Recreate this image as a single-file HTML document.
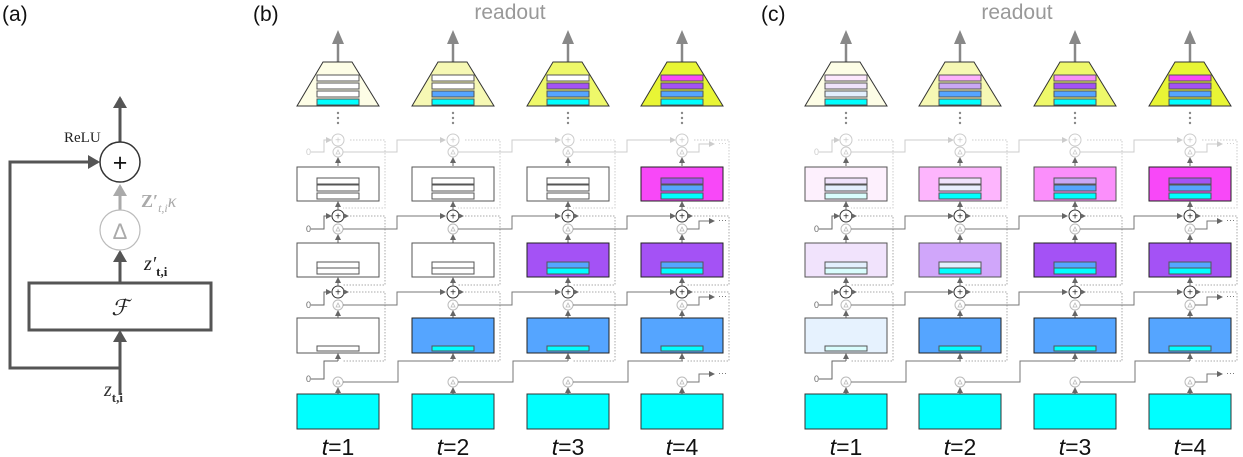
<!DOCTYPE html>
<html><head><meta charset="utf-8"><style>
html,body{margin:0;padding:0;background:#fff}
svg{display:block}
text{font-family:"Liberation Sans",sans-serif}
text.s, text.s tspan{font-family:"Liberation Serif",serif}
</style></head><body>
<svg width="1243" height="457" viewBox="0 0 1243 457" xmlns="http://www.w3.org/2000/svg">
<defs>
<marker id="ah" markerWidth="6" markerHeight="6" refX="5" refY="3" orient="auto" markerUnits="userSpaceOnUse"><path d="M0,0 L6,3 L0,6 z" fill="#666"/></marker>
<marker id="af" markerWidth="6" markerHeight="6" refX="5" refY="3" orient="auto" markerUnits="userSpaceOnUse"><path d="M0,0 L6,3 L0,6 z" fill="#ccc"/></marker>
<marker id="big" markerWidth="12" markerHeight="14" refX="10" refY="7" orient="auto" markerUnits="userSpaceOnUse"><path d="M0,0 L12,7 L0,14 z" fill="#555"/></marker>
<marker id="bigg" markerWidth="12" markerHeight="14" refX="10" refY="7" orient="auto" markerUnits="userSpaceOnUse"><path d="M0,0 L12,7 L0,14 z" fill="#aaa"/></marker>
<g id="conn">
  <circle cx="0" cy="113" r="1.2" fill="#888"/><circle cx="0" cy="118" r="1.2" fill="#888"/><circle cx="0" cy="123" r="1.2" fill="#888"/>
  <path d="M12,140 H47 V208 H5" fill="none" stroke="#ccc" stroke-width="1" stroke-dasharray="1.5,1.5"/>
  <path d="M12,216 H47 V285 H5" fill="none" stroke="#aaa" stroke-width="1" stroke-dasharray="1.5,1.5"/>
  <path d="M12,292 H47 V361 H5" fill="none" stroke="#aaa" stroke-width="1" stroke-dasharray="1.5,1.5"/>
  <circle cx="0" cy="140" r="6" fill="#fff" stroke="#ccc"/><text x="0" y="143.5" font-size="10" text-anchor="middle" fill="#ccc">+</text>
  <circle cx="0" cy="152" r="5" fill="#fff" stroke="#ccc"/>
  <path d="M0,166 V158" stroke="#666" marker-end="url(#ah)"/>
  <path d="M-2,154 L0,150 L2,154z" fill="none" stroke="#ccc" stroke-width="0.8"/>
  <circle cx="0" cy="216" r="6" fill="#fff" stroke="#333"/><text x="0" y="219.5" font-size="10" text-anchor="middle" fill="#222">+</text>
  <path d="M0,210 V202" stroke="#666" marker-end="url(#ah)"/>
  <path d="M10,216 h-3" stroke="#666" marker-end="url(#ah)" transform="rotate(180 8.5 216)"/>
  <circle cx="0" cy="229" r="5" fill="#fff" stroke="#bbb"/><path d="M-2,231 L0,227 L2,231z" fill="none" stroke="#bbb" stroke-width="0.8"/>
  <path d="M0,243 V235" stroke="#666" marker-end="url(#ah)"/>
  <circle cx="0" cy="292" r="6" fill="#fff" stroke="#333"/><text x="0" y="295.5" font-size="10" text-anchor="middle" fill="#222">+</text>
  <path d="M0,286 V278" stroke="#666" marker-end="url(#ah)"/>
  <path d="M10,292 h-3" stroke="#666" marker-end="url(#ah)" transform="rotate(180 8.5 292)"/>
  <circle cx="0" cy="305" r="5" fill="#fff" stroke="#bbb"/><path d="M-2,307 L0,303 L2,307z" fill="none" stroke="#bbb" stroke-width="0.8"/>
  <path d="M0,318 V311" stroke="#666" marker-end="url(#ah)"/>
  <path d="M0,361 V354" stroke="#666" marker-end="url(#ah)"/>
  <circle cx="0" cy="382" r="5" fill="#fff" stroke="#bbb"/><path d="M-2,384 L0,380 L2,384z" fill="none" stroke="#bbb" stroke-width="0.8"/>
  <path d="M0,394 V388" stroke="#666" marker-end="url(#ah)"/>
</g>
<g id="zero">
  <path d="M-27,152 H-14 V140 H-7" fill="none" stroke="#ccc" marker-end="url(#af)"/>
  <path d="M-27,229 H-14 V216 H-7" fill="none" stroke="#666" marker-end="url(#ah)"/>
  <path d="M-27,305 H-14 V292 H-7" fill="none" stroke="#666" marker-end="url(#ah)"/>
  <path d="M-27,379 H-14 V361 H0" fill="none" stroke="#666"/>
</g>
<g id="step">
  <path d="M5,152 H59 V140 H107" fill="none" stroke="#ccc" marker-end="url(#af)"/>
  <path d="M5,229 H59 V216 H107" fill="none" stroke="#777" marker-end="url(#ah)"/>
  <path d="M5,305 H59 V292 H107" fill="none" stroke="#777" marker-end="url(#ah)"/>
  <path d="M5,382 H60 V361 H115" fill="none" stroke="#777"/>
</g>
<g id="out">
  <path d="M5,152 H17 V144 H32" fill="none" stroke="#ccc" marker-end="url(#af)"/>
  <path d="M5,229 H17 V221 H32" fill="none" stroke="#777" marker-end="url(#ah)"/>
  <path d="M5,305 H17 V297 H32" fill="none" stroke="#777" marker-end="url(#ah)"/>
  <path d="M5,382 H17 V374 H32" fill="none" stroke="#777" marker-end="url(#ah)"/>
  <text x="36" y="146" font-size="9" fill="#ccc">···</text>
  <text x="36" y="223" font-size="9" fill="#666">···</text>
  <text x="36" y="299" font-size="9" fill="#666">···</text>
  <text x="36" y="376" font-size="9" fill="#666">···</text>
</g>
<g id="rd">
  <line x1="0" y1="62" x2="0" y2="43" stroke="#888" stroke-width="2.5"/>
  <polygon points="-6,44 6,44 0,30" fill="#888"/>
</g>
</defs>

<text x="2" y="21" font-size="21" fill="#111">(a)</text>
<text x="253" y="21" font-size="21" fill="#111">(b)</text>
<text x="761" y="21" font-size="21" fill="#111">(c)</text>
<text x="510" y="19" font-size="21" fill="#999" text-anchor="middle">readout</text>
<text x="1017" y="19" font-size="21" fill="#999" text-anchor="middle">readout</text>

<!-- Panel (a) -->
<g fill="none" stroke="#555" stroke-width="3">
  <path d="M120,395 V332" marker-end="url(#big)"/>
  <path d="M120,368 H10 V162 H98" marker-end="url(#big)"/>
  <path d="M120,283 V252" marker-end="url(#big)"/>
  <path d="M120,142 V98" marker-end="url(#big)"/>
</g>
<path d="M120,210 V186" fill="none" stroke="#aaa" stroke-width="3" marker-end="url(#bigg)"/>
<circle cx="120" cy="162" r="20" fill="#fff" stroke="#333" stroke-width="1.5"/>
<text x="120" y="171" font-size="25" text-anchor="middle" fill="#111">+</text>
<circle cx="120" cy="230" r="20" fill="#fff" stroke="#bbb" stroke-width="1.2"/>
<text x="120" y="239" font-size="22" text-anchor="middle" fill="#aaa">Δ</text>
<text class="s" x="64" y="142" font-size="15" fill="#222">ReLU</text>
<text class="s" x="141" y="207" font-size="18" font-weight="bold" fill="#aaa">Z′<tspan font-size="12" dy="5" font-style="italic" font-weight="normal">t,i</tspan><tspan dy="-5" font-style="italic" font-weight="normal" font-size="18">κ</tspan></text>
<text class="s" x="144" y="270" font-size="20" font-style="italic" fill="#222">z′<tspan font-size="13" dy="6" font-weight="bold" font-style="normal">t,i</tspan></text>
<rect x="29" y="283" width="182" height="47" fill="#fff" stroke="#555" stroke-width="3"/>
<text class="s" x="120" y="315" font-size="22" font-style="italic" text-anchor="middle" fill="#222">ℱ</text>
<text class="s" x="104" y="396" font-size="20" font-style="italic" fill="#333">z<tspan font-size="13" dy="6" font-weight="bold" font-style="normal">t,i</tspan></text>

<use href="#conn" x="338"/><use href="#conn" x="453"/><use href="#conn" x="568"/><use href="#conn" x="682"/>
<use href="#conn" x="846"/><use href="#conn" x="960"/><use href="#conn" x="1075"/><use href="#conn" x="1190"/>
<use href="#zero" x="338"/><use href="#zero" x="846"/>
<use href="#step" x="338"/><use href="#step" x="453"/><use href="#step" x="568"/>
<use href="#step" x="846"/><use href="#step" x="960"/><use href="#step" x="1075"/>
<use href="#out" x="682"/><use href="#out" x="1190"/>
<g font-size="9" fill="#666">
<text x="306" y="155" fill="#ccc">0</text><text x="306" y="232">0</text><text x="306" y="308">0</text><text x="306" y="382">0</text>
<text x="814" y="155" fill="#ccc">0</text><text x="814" y="232">0</text><text x="814" y="308">0</text><text x="814" y="382">0</text>
</g>
<use href="#rd" x="338"/><use href="#rd" x="453"/><use href="#rd" x="568"/><use href="#rd" x="682"/>
<use href="#rd" x="846"/><use href="#rd" x="960"/><use href="#rd" x="1075"/><use href="#rd" x="1190"/>

<g stroke="#555" stroke-width="1">
<g transform="translate(338,0)">
<polygon points="-15,62 14,62 41,106 -41,106" fill="#fdfde6" stroke="#333"/>
<rect x="-21" y="75" width="42" height="6" fill="#fff"/><rect x="-21" y="83" width="42" height="6" fill="#fff"/><rect x="-21" y="91" width="42" height="6" fill="#fff"/><rect x="-21" y="99" width="42" height="6" fill="#00ffff"/>
<rect x="-41" y="167" width="82" height="34" fill="#fff"/>
<rect x="-21" y="178" width="42" height="6" fill="#fff"/><rect x="-21" y="185" width="42" height="6" fill="#fff"/><rect x="-21" y="193" width="42" height="6" fill="#fff"/>
<rect x="-41" y="243" width="82" height="34" fill="#fff"/>
<rect x="-21" y="262" width="42" height="6" fill="#fff"/><rect x="-21" y="268" width="42" height="6" fill="#fff"/>
<rect x="-41" y="318" width="82" height="35" fill="#fff"/>
<rect x="-21" y="346" width="42" height="5" fill="#fff"/>
<rect x="-41" y="394" width="82" height="35" fill="#00ffff" stroke="#333"/>
</g>
<g transform="translate(453,0)">
<polygon points="-15,62 14,62 41,106 -41,106" fill="#f6f8b4" stroke="#333"/>
<rect x="-21" y="75" width="42" height="6" fill="#fff"/><rect x="-21" y="83" width="42" height="6" fill="#fff"/><rect x="-21" y="91" width="42" height="6" fill="#55a5ff"/><rect x="-21" y="99" width="42" height="6" fill="#00ffff"/>
<rect x="-41" y="167" width="82" height="34" fill="#fff"/>
<rect x="-21" y="178" width="42" height="6" fill="#fff"/><rect x="-21" y="185" width="42" height="6" fill="#fff"/><rect x="-21" y="193" width="42" height="6" fill="#fff"/>
<rect x="-41" y="243" width="82" height="34" fill="#fff"/>
<rect x="-21" y="262" width="42" height="6" fill="#fff"/><rect x="-21" y="268" width="42" height="6" fill="#fff"/>
<rect x="-41" y="318" width="82" height="35" fill="#55a5ff" stroke="#222"/>
<rect x="-21" y="346" width="42" height="5" fill="#00ffff"/>
<rect x="-41" y="394" width="82" height="35" fill="#00ffff" stroke="#333"/>
</g>
<g transform="translate(568,0)">
<polygon points="-15,62 14,62 41,106 -41,106" fill="#eef86a" stroke="#333"/>
<rect x="-21" y="75" width="42" height="6" fill="#fff"/><rect x="-21" y="83" width="42" height="6" fill="#a452f5"/><rect x="-21" y="91" width="42" height="6" fill="#55a5ff"/><rect x="-21" y="99" width="42" height="6" fill="#00ffff"/>
<rect x="-41" y="167" width="82" height="34" fill="#fff"/>
<rect x="-21" y="178" width="42" height="6" fill="#fff"/><rect x="-21" y="185" width="42" height="6" fill="#fff"/><rect x="-21" y="193" width="42" height="6" fill="#fff"/>
<rect x="-41" y="243" width="82" height="34" fill="#a452f5" stroke="#222"/>
<rect x="-21" y="262" width="42" height="6" fill="#55a5ff"/><rect x="-21" y="268" width="42" height="6" fill="#00ffff"/>
<rect x="-41" y="318" width="82" height="35" fill="#55a5ff" stroke="#222"/>
<rect x="-21" y="346" width="42" height="5" fill="#00ffff"/>
<rect x="-41" y="394" width="82" height="35" fill="#00ffff" stroke="#333"/>
</g>
<g transform="translate(682,0)">
<polygon points="-15,62 14,62 41,106 -41,106" fill="#e8f535" stroke="#333"/>
<rect x="-21" y="75" width="42" height="6" fill="#f848f8"/><rect x="-21" y="83" width="42" height="6" fill="#a452f5"/><rect x="-21" y="91" width="42" height="6" fill="#55a5ff"/><rect x="-21" y="99" width="42" height="6" fill="#00ffff"/>
<rect x="-41" y="167" width="82" height="34" fill="#f848f8" stroke="#222"/>
<rect x="-21" y="178" width="42" height="6" fill="#a452f5"/><rect x="-21" y="185" width="42" height="6" fill="#55a5ff"/><rect x="-21" y="193" width="42" height="6" fill="#00ffff"/>
<rect x="-41" y="243" width="82" height="34" fill="#a452f5" stroke="#222"/>
<rect x="-21" y="262" width="42" height="6" fill="#55a5ff"/><rect x="-21" y="268" width="42" height="6" fill="#00ffff"/>
<rect x="-41" y="318" width="82" height="35" fill="#55a5ff" stroke="#222"/>
<rect x="-21" y="346" width="42" height="5" fill="#00ffff"/>
<rect x="-41" y="394" width="82" height="35" fill="#00ffff" stroke="#333"/>
</g>
<g transform="translate(846,0)">
<polygon points="-15,62 14,62 41,106 -41,106" fill="#fdfde6" stroke="#333"/>
<rect x="-21" y="75" width="42" height="6" fill="#fde8fd"/><rect x="-21" y="83" width="42" height="6" fill="#efe3fb"/><rect x="-21" y="91" width="42" height="6" fill="#e3effd"/><rect x="-21" y="99" width="42" height="6" fill="#00ffff"/>
<rect x="-41" y="167" width="82" height="34" fill="#fdf0fd"/>
<rect x="-21" y="178" width="42" height="6" fill="#efe3fb"/><rect x="-21" y="185" width="42" height="6" fill="#e3effd"/><rect x="-21" y="193" width="42" height="6" fill="#d9fdfd"/>
<rect x="-41" y="243" width="82" height="34" fill="#f1e3fc"/>
<rect x="-21" y="262" width="42" height="6" fill="#e3effd"/><rect x="-21" y="268" width="42" height="6" fill="#d9fdfd"/>
<rect x="-41" y="318" width="82" height="35" fill="#e6f2fe"/>
<rect x="-21" y="346" width="42" height="5" fill="#d9fdfd"/>
<rect x="-41" y="394" width="82" height="35" fill="#00ffff" stroke="#333"/>
</g>
<g transform="translate(960,0)">
<polygon points="-15,62 14,62 41,106 -41,106" fill="#f6f8b4" stroke="#333"/>
<rect x="-21" y="75" width="42" height="6" fill="#fdb0fd"/><rect x="-21" y="83" width="42" height="6" fill="#caa8f5"/><rect x="-21" y="91" width="42" height="6" fill="#55a5ff"/><rect x="-21" y="99" width="42" height="6" fill="#00ffff"/>
<rect x="-41" y="167" width="82" height="34" fill="#fdb5fd"/>
<rect x="-21" y="178" width="42" height="6" fill="#efe3fb"/><rect x="-21" y="185" width="42" height="6" fill="#e8effd"/><rect x="-21" y="193" width="42" height="6" fill="#00ffff"/>
<rect x="-41" y="243" width="82" height="34" fill="#d0a6fa"/>
<rect x="-21" y="262" width="42" height="6" fill="#e3effd"/><rect x="-21" y="268" width="42" height="6" fill="#00ffff"/>
<rect x="-41" y="318" width="82" height="35" fill="#55a5ff" stroke="#222"/>
<rect x="-21" y="346" width="42" height="5" fill="#00ffff"/>
<rect x="-41" y="394" width="82" height="35" fill="#00ffff" stroke="#333"/>
</g>
<g transform="translate(1075,0)">
<polygon points="-15,62 14,62 41,106 -41,106" fill="#eef86a" stroke="#333"/>
<rect x="-21" y="75" width="42" height="6" fill="#f78ff7"/><rect x="-21" y="83" width="42" height="6" fill="#a452f5"/><rect x="-21" y="91" width="42" height="6" fill="#55a5ff"/><rect x="-21" y="99" width="42" height="6" fill="#00ffff"/>
<rect x="-41" y="167" width="82" height="34" fill="#fb8ffb"/>
<rect x="-21" y="178" width="42" height="6" fill="#caa8f5"/><rect x="-21" y="185" width="42" height="6" fill="#55a5ff"/><rect x="-21" y="193" width="42" height="6" fill="#00ffff"/>
<rect x="-41" y="243" width="82" height="34" fill="#a452f5" stroke="#222"/>
<rect x="-21" y="262" width="42" height="6" fill="#55a5ff"/><rect x="-21" y="268" width="42" height="6" fill="#00ffff"/>
<rect x="-41" y="318" width="82" height="35" fill="#55a5ff" stroke="#222"/>
<rect x="-21" y="346" width="42" height="5" fill="#00ffff"/>
<rect x="-41" y="394" width="82" height="35" fill="#00ffff" stroke="#333"/>
</g>
<g transform="translate(1190,0)">
<polygon points="-15,62 14,62 41,106 -41,106" fill="#e8f535" stroke="#333"/>
<rect x="-21" y="75" width="42" height="6" fill="#f848f8"/><rect x="-21" y="83" width="42" height="6" fill="#a452f5"/><rect x="-21" y="91" width="42" height="6" fill="#55a5ff"/><rect x="-21" y="99" width="42" height="6" fill="#00ffff"/>
<rect x="-41" y="167" width="82" height="34" fill="#f848f8" stroke="#222"/>
<rect x="-21" y="178" width="42" height="6" fill="#a452f5"/><rect x="-21" y="185" width="42" height="6" fill="#55a5ff"/><rect x="-21" y="193" width="42" height="6" fill="#00ffff"/>
<rect x="-41" y="243" width="82" height="34" fill="#a452f5" stroke="#222"/>
<rect x="-21" y="262" width="42" height="6" fill="#55a5ff"/><rect x="-21" y="268" width="42" height="6" fill="#00ffff"/>
<rect x="-41" y="318" width="82" height="35" fill="#55a5ff" stroke="#222"/>
<rect x="-21" y="346" width="42" height="5" fill="#00ffff"/>
<rect x="-41" y="394" width="82" height="35" fill="#00ffff" stroke="#333"/>
</g>
</g>

<g font-size="23" fill="#111" text-anchor="middle">
<text x="338" y="455"><tspan font-style="italic">t</tspan>=1</text>
<text x="453" y="455"><tspan font-style="italic">t</tspan>=2</text>
<text x="568" y="455"><tspan font-style="italic">t</tspan>=3</text>
<text x="682" y="455"><tspan font-style="italic">t</tspan>=4</text>
<text x="846" y="455"><tspan font-style="italic">t</tspan>=1</text>
<text x="960" y="455"><tspan font-style="italic">t</tspan>=2</text>
<text x="1075" y="455"><tspan font-style="italic">t</tspan>=3</text>
<text x="1190" y="455"><tspan font-style="italic">t</tspan>=4</text>
</g>
</svg>
</body></html>
